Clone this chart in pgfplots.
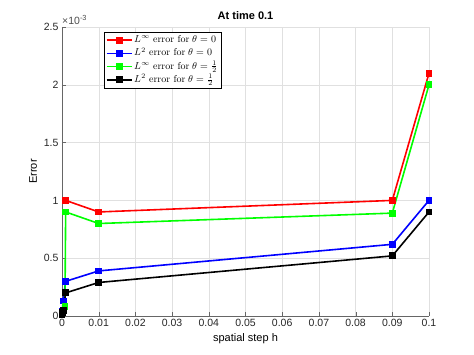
\documentclass[border=0pt]{standalone}
\usepackage{pgfplots}
\pgfplotsset{compat=1.18}
\usepackage{fontspec}
\setmainfont{Liberation Sans}
\newfontfamily\lmr{Latin Modern Roman}
\usepackage{unicode-math}
\setmathfont{Latin Modern Math}
\begin{document}
\begin{tikzpicture}
\begin{axis}[
  at={(0,0)}, anchor=south west,
  scale only axis, width=367bp, height=289bp,
  xmin=0, xmax=0.1, ymin=0, ymax=2.5,
  axis x line*=bottom, axis y line*=left,
  axis line style={draw=black!60, line width=0.5pt},
  tick style={draw=black!60},
  tick align=inside,
  xtick={0,0.01,0.02,0.03,0.04,0.05,0.06,0.07,0.08,0.09,0.1},
  xticklabels={0,0.01,0.02,0.03,0.04,0.05,0.06,0.07,0.08,0.09,0.1},
  ytick={0,0.5,1,1.5,2,2.5},
  yticklabels={0,0.5,1,1.5,2,2.5},
  grid=major, major grid style={draw=black!12, line width=0.4pt},
  ticklabel style={font=\fontsize{10.5bp}{12bp}\selectfont, text=black!85},
  xlabel={spatial step h}, ylabel={Error},
  label style={font=\fontsize{11bp}{13bp}\selectfont},
  title={\textbf{At time 0.1}},
  title style={font=\fontsize{11bp}{13bp}\selectfont, yshift=-2bp},
  legend style={at={(0.115,0.983)}, anchor=north west, draw=black, fill=white,
    font=\lmr\fontsize{10bp}{11bp}\selectfont, inner sep=1.5bp, row sep=0bp,
    nodes={inner ysep=1bp, text height=8bp, text depth=3.2bp}},
  legend cell align=left,
  legend image code/.code={\draw[mark repeat=2,mark phase=2,line width=1.6bp,#1] plot coordinates {(0bp,0bp)(12.5bp,0bp)(25bp,0bp)};},
  every axis plot/.append style={line width=1.6bp, mark=square*, mark size=2.6bp},
  clip=false,
]
\addplot[red, mark options={fill=red}] coordinates {(0.1,2.1) (0.09,1.0) (0.01,0.9) (0.001,1.0)};
\addlegendentry{$L^\infty$ error for $\theta=0$}
\addplot[blue, mark options={fill=blue}] coordinates {(0.1,1.0) (0.09,0.62) (0.01,0.39) (0.001,0.3) (0.0003,0.13) (0.0001,0.04) (0.00001,0.02)};
\addlegendentry{$L^2$ error for $\theta=0$}
\addplot[green, mark options={fill=green}] coordinates {(0.1,2.0) (0.09,0.89) (0.01,0.8) (0.001,0.9) (0.0008,0.08) (0.0001,0.03) (0.00001,0.01)};
\addlegendentry{$L^\infty$ error for $\theta=\frac{1}{2}$}
\addplot[black, mark options={fill=black}] coordinates {(0.1,0.9) (0.09,0.52) (0.01,0.29) (0.001,0.2) (0.0003,0.05) (0.0001,0.03) (0.00001,0.01)};
\addlegendentry{$L^2$ error for $\theta=\frac{1}{2}$}
\node[anchor=south west, font=\fontsize{10.5bp}{12bp}\selectfont, text=black!70, inner sep=0pt] at (rel axis cs:0,1.008) {×10\textsuperscript{-3}};
\end{axis}
\useasboundingbox (-62bp,-39bp) rectangle (412bp,316bp);
\end{tikzpicture}
\end{document}
